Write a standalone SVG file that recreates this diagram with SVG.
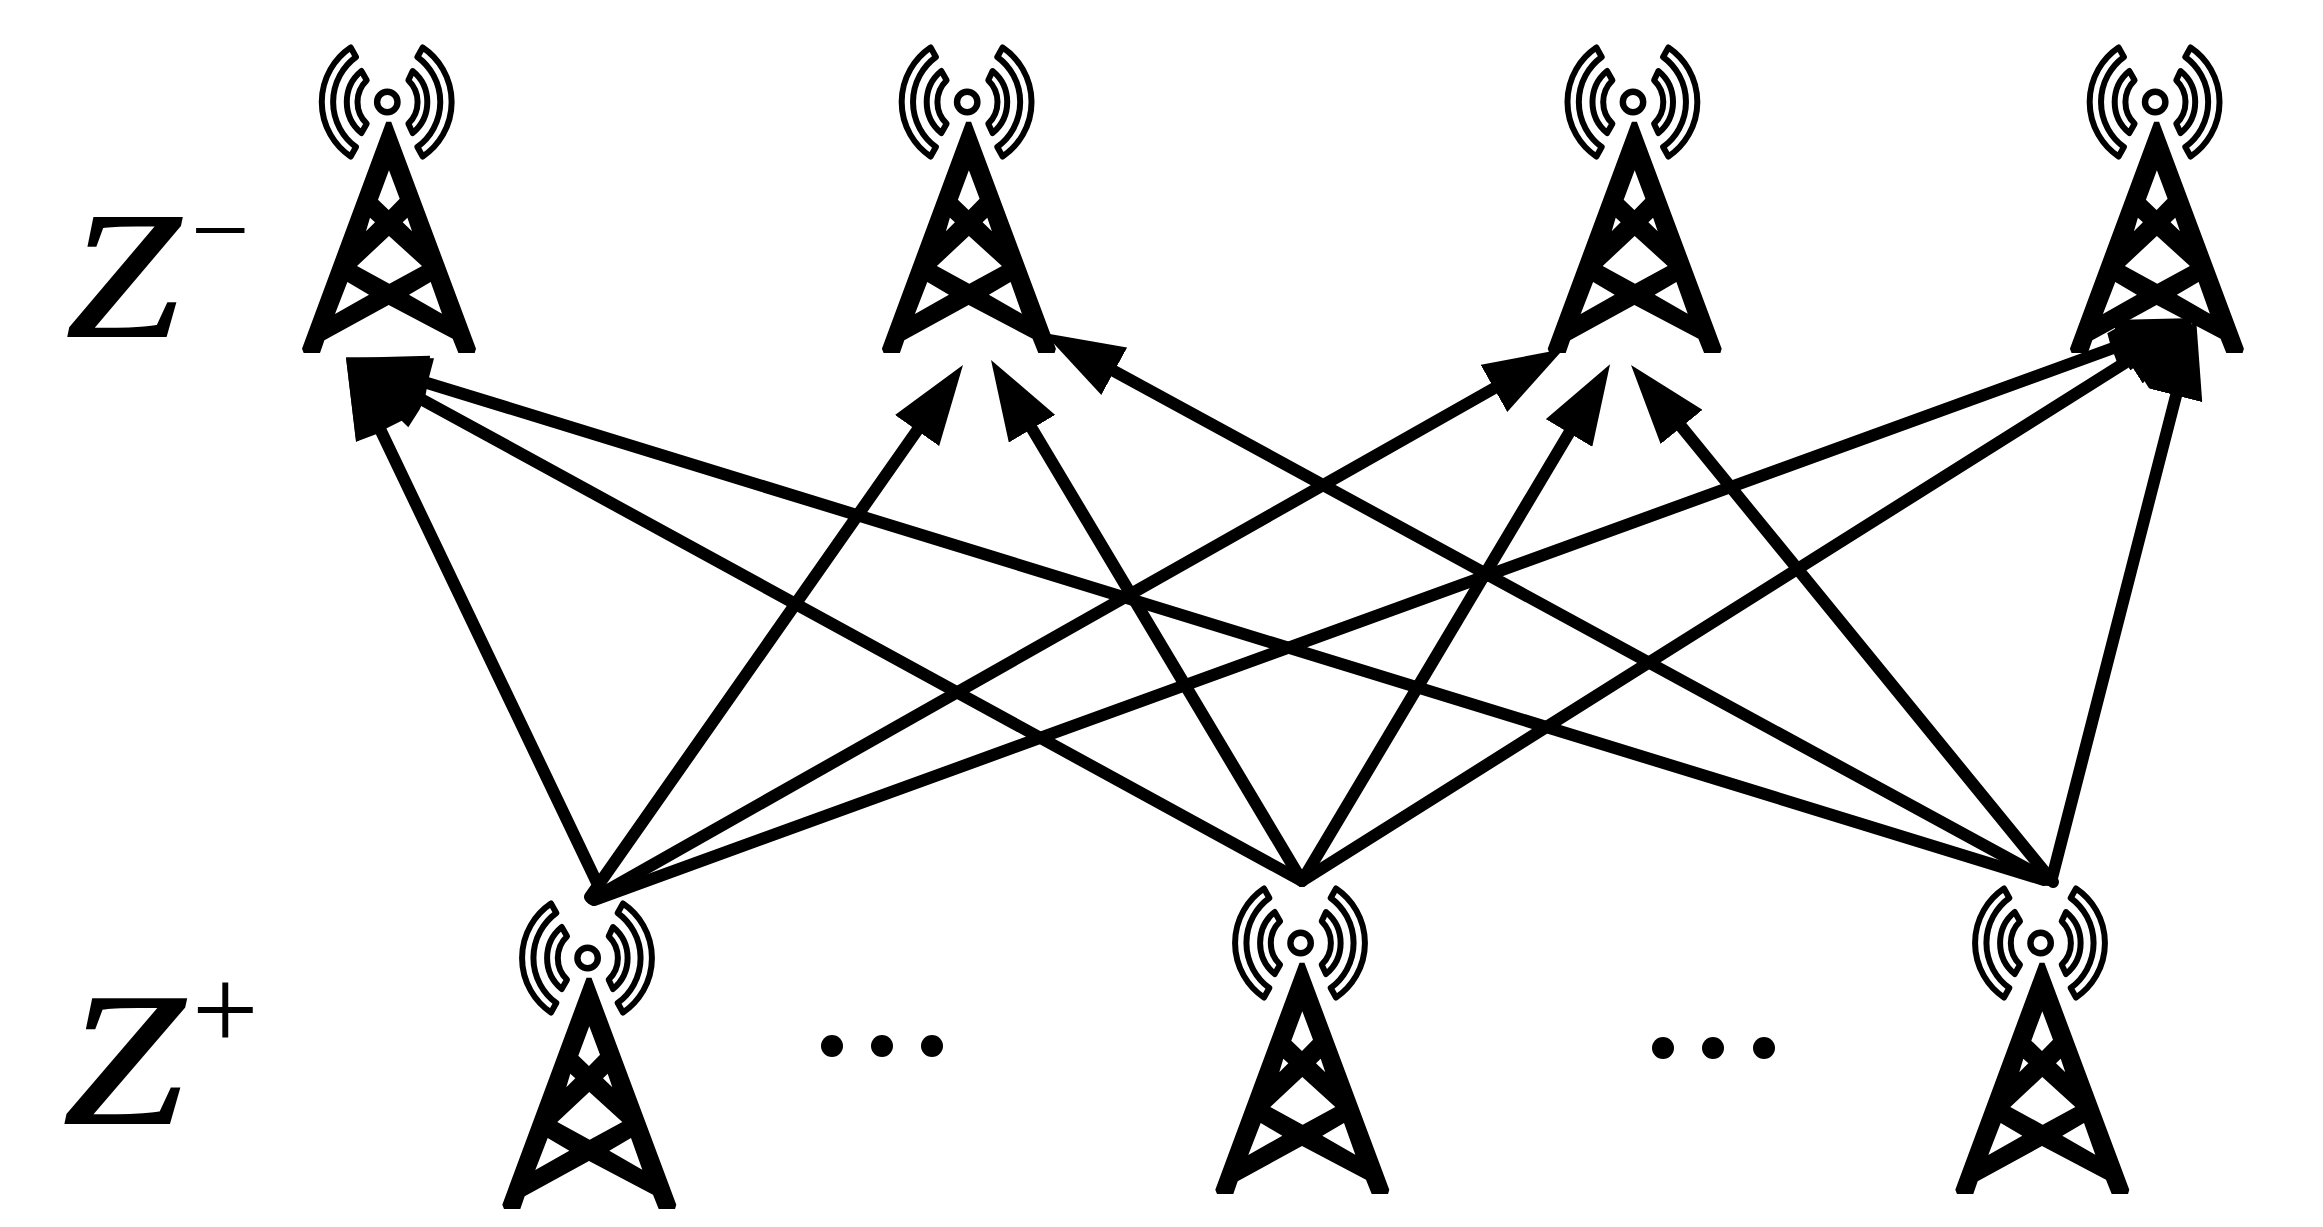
<svg xmlns="http://www.w3.org/2000/svg" width="2323" height="1227" viewBox="0 0 2323 1227">
<style>
.z{font-family:"Liberation Serif","Times New Roman",serif;font-style:italic;fill:#000;stroke:#000;stroke-width:1.8}
.s{font-family:"Liberation Serif","Times New Roman",serif;fill:#000}
.c line{stroke:#000;stroke-width:12;stroke-linecap:round;marker-end:url(#h)}
.arc{fill:none;stroke:#000;stroke-width:6;stroke-linejoin:round}
.dot{fill:#000}
</style>
<defs>
<marker id="h" markerUnits="userSpaceOnUse" viewBox="0 0 80 54" markerWidth="80" markerHeight="54" refX="2" refY="27" orient="auto"><polygon points="0,0 80,27 0,54" fill="#000"/></marker>
<g id="tower">
<path fill="#000" fill-rule="evenodd" d="M-2.5,19.7 L2.5,19.7 L87.3,246.7 L86,251 L69.7,251 L64,236.7 L0,203 L-64.3,238.3 L-68.7,251 L-85,251 L-86.7,246.7 Z M0.3,68.3 L11,96.7 L0,108 L-10.7,97.7 Z M-18.7,115.7 L-13.7,120.3 L-22.7,129.3 Z M18.7,115.7 L14,120.3 L23.3,129.3 Z M0.3,134 L33.3,164 L0.7,181.7 L-31.7,164 Z M-41.3,180 L-19.7,192.7 L-53.7,212 Z M42,180 L20.3,192.7 L53.3,211.7 Z"/>
<circle cx="-1.4" cy="0" r="10.2" fill="none" stroke="#000" stroke-width="6.4"/>
<path class="arc" d="M-38,-54.5 A65.8,65.8 0 0 0 -38,54.5 L-32.7,45 A55.7,55.7 0 0 1 -32.7,-45 Z"/>
<path class="arc" d="M-27.3,-31 A40.2,40.2 0 0 0 -27.3,31 L-22,21.7 A30.2,30.2 0 0 1 -22,-21.7 Z"/>
<path class="arc" d="M34,-54.5 A65.8,65.8 0 0 1 34,54.5 L28.7,45 A55.7,55.7 0 0 0 28.7,-45 Z"/>
<path class="arc" d="M24,-31 A40.2,40.2 0 0 1 24,31 L19.7,21.7 A30.2,30.2 0 0 0 19.7,-21.7 Z"/>
</g>
</defs>
<rect width="2323" height="1227" fill="#fff"/>
<g id="t1"><use href="#tower" x="388.7" y="102"/></g>
<g id="t2"><use href="#tower" x="968.6" y="102"/></g>
<g id="t3"><use href="#tower" x="1634.4" y="102"/></g>
<g id="t4"><use href="#tower" x="2156.6" y="102"/></g>
<g id="s1"><use href="#tower" x="589" y="958"/></g>
<g id="s2"><use href="#tower" x="1302" y="943"/></g>
<g id="s3"><use href="#tower" x="2042" y="943"/></g>
<g id="connectors" class="c">
<line x1="599" y1="887" x2="379.7" y2="428.4"/>
<line x1="590" y1="897" x2="918.2" y2="428.9"/>
<line x1="592" y1="899" x2="1495.7" y2="387.4"/>
<line x1="594" y1="900" x2="2122.7" y2="344.6"/>
<line x1="1302" y1="881" x2="414.4" y2="395.4"/>
<line x1="1302" y1="881" x2="1031" y2="427"/>
<line x1="1302" y1="881" x2="1570.1" y2="431.3"/>
<line x1="1302" y1="881" x2="2130" y2="359.6"/>
<line x1="2044" y1="880" x2="420.6" y2="380.9"/>
<line x1="2048" y1="880" x2="1112.5" y2="370.3"/>
<line x1="2053" y1="882" x2="1680.3" y2="425.4"/>
<line x1="2052" y1="878" x2="2176.6" y2="393.5"/>
<polygon fill="#000" points="346,357.3 434,358.3 428.3,380 425,398.3 419.3,410 408.3,427.3 401.7,420.7 386.7,428.3 376.7,434 356,441.7"/>
<polygon fill="#000" points="2107.3,333.3 2129,320.7 2183,319 2196,326.7 2200.7,400.7 2149,388.3 2135.7,367.3 2117.7,364.3 2110,343.3"/>
</g>
<g id="dots1"><circle class="dot" cx="832" cy="1046" r="11"/><circle class="dot" cx="882" cy="1046" r="11"/><circle class="dot" cx="932" cy="1046" r="11"/></g>
<g id="dots2"><circle class="dot" cx="1663" cy="1048" r="11"/><circle class="dot" cx="1713" cy="1048" r="11"/><circle class="dot" cx="1764" cy="1048" r="11"/></g>
<g id="label-minus"><text class="z" transform="translate(66,336) scale(1.17,1.03)" font-size="175">Z</text><text class="s" x="191" y="265" font-size="104">−</text></g>
<g id="label-plus"><text class="z" transform="translate(63,1122.7) scale(1.19,1.03)" font-size="183">Z</text><text class="s" x="192" y="1050" font-size="118">+</text></g>
</svg>
